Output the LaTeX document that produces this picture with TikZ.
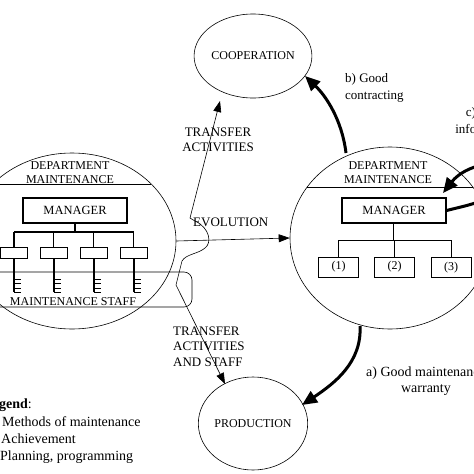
\documentclass[tikz,border=0pt]{standalone}
\usepackage{fontspec}
\setmainfont{Liberation Serif}
\usetikzlibrary{shapes.geometric,arrows.meta}
\begin{document}
\begin{tikzpicture}[x=1pt,y=-1pt,
  thinln/.style={line width=0.6pt},
  bigell/.style={draw, ellipse, line width=0.6pt, inner sep=0pt},
  smallell/.style={draw, ellipse, line width=0.6pt, inner sep=0pt, font=\fontsize{12}{14}\selectfont},
  mgrbox/.style={draw, line width=1.3pt, minimum width=104pt, minimum height=25pt, inner sep=0pt, font=\fontsize{12.5}{14}\selectfont},
  lbox/.style={draw, line width=0.9pt, minimum width=27pt, minimum height=11pt, inner sep=0pt},
  rbox/.style={draw, line width=0.8pt, minimum width=40pt, minimum height=20pt, inner sep=0pt, font=\fontsize{12}{14}\selectfont},
  captxt/.style={inner sep=0pt, font=\fontsize{12}{14}\selectfont},
  lbl/.style={inner sep=0pt, font=\fontsize{13}{15}\selectfont},
  lgd/.style={inner sep=0pt, anchor=base west, font=\fontsize{14}{17}\selectfont},
  thickarrow/.style={line width=3pt, -{Triangle[length=15pt,width=13pt]}},
  thinarrow/.style={line width=0.6pt, -{Triangle[length=11pt,width=8pt]}},
  thinarrowboth/.style={line width=0.6pt, {Triangle[length=11pt,width=8pt]}-{Triangle[length=11pt,width=8pt]}}
]
\useasboundingbox (0,0) rectangle (474,474);
\clip (0,0) rectangle (474,474);

% main ellipses
\node[bigell, minimum width=208pt, minimum height=176pt] (L) at (72,241) {};
\node[bigell, minimum width=200pt, minimum height=182pt] (R) at (390,238) {};
\node[smallell, minimum width=102pt, minimum height=84pt] (coop) at (253,56) {COOPERATION};
\node[smallell, minimum width=100pt, minimum height=93pt] (prod) at (253,423.5) {PRODUCTION};

% ---------- left department ----------
\node[captxt, anchor=base] (Ld1) at (70,169) {DEPARTMENT};
\node[captxt, anchor=base] (Ld2) at (70,183) {MAINTENANCE};
\draw[thinln] (-5,184.5) -- (151,184.5);
\node[mgrbox] (Lm) at (75,210.5) {MANAGER};
\coordinate (Lj) at (75,232);
\draw[line width=1.2pt] (Lm.south) -- (Lj);
\draw[line width=1.2pt] (14,232) -- (133.5,232);
\foreach \i/\xx in {1/14,2/53.5,3/93.5,4/133.5}{
  \node[lbox] (lb\i) at (\xx,252.5) {};
  \draw[line width=1.2pt] (\xx,232) -- (lb\i.north);
  \draw[line width=2pt] (lb\i.south) -- (\xx,292);
  \foreach \yy in {279,283.5,288,292}{
    \draw[line width=0.8pt] (\xx,\yy) -- ++(7,0);
  }
}
\draw[thinln, rounded corners=8pt] (-10,272) rectangle (192,307);
\node[captxt, anchor=base] (staff) at (73,305) {MAINTENANCE STAFF};

% ---------- right department ----------
\node[captxt, anchor=base] (Rd1) at (388,169) {DEPARTMENT};
\node[captxt, anchor=base] (Rd2) at (388,183) {MAINTENANCE};
\draw[thinln] (307,187) -- (473,187);
\node[mgrbox, line width=1.1pt] (Rm) at (394,210.5) {MANAGER};
\coordinate (Rj) at (393,240);
\draw[line width=0.8pt] (Rm.south -| Rj) -- (Rj);
\draw[line width=0.8pt] (338.5,240) -- (451,240);
\node[rbox] (r1) at (338.5,267) {(1)};
\node[rbox] (r2) at (394.5,267) {(2)};
\node[rbox] (r3) at (451,267.5) {(3)};
\foreach \i/\xx in {1/338.5,2/394.5,3/451}{
  \draw[line width=0.8pt] (\xx,240) -- (r\i.north);
}

% ---------- connectors ----------
\draw[thinarrow] (L.east) -- (R.west);
\node[lbl, anchor=base west] (evo) at (193,226) {EVOLUTION};

\coordinate (w1) at (190,218);
\coordinate (w2) at (176,285);
\coordinate (coopin) at (220,101);
\coordinate (prodin) at (225,384);
\draw[thinarrowboth] (coopin) -- (w1) -- (195,221)
  .. controls (210,228) and (212,243) .. (205,248)
  .. controls (198,254) and (186,254) .. (182,261)
  -- (w2) -- (prodin);

\node[lbl, anchor=base] (t1) at (218,136) {TRANSFER};
\node[lbl, anchor=base] (t2) at (218,151) {ACTIVITIES};
\node[lbl, anchor=base west] (t3) at (173,335) {TRANSFER};
\node[lbl, anchor=base west] (t4) at (173,350.5) {ACTIVITIES};
\node[lbl, anchor=base west] (t5) at (173,366) {AND STAFF};

% thick arrows
\coordinate (bstart) at (346,153);
\coordinate (bend) at (305,76);
\draw[thickarrow] (bstart) .. controls (342,120) and (326,96) .. (bend);
\node[lbl, anchor=base west] (b1) at (345,82) {b) Good};
\node[lbl, anchor=base west] (b2) at (345,99) {contracting};

\coordinate (astart) at (360,326);
\coordinate (aend) at (302,405);
\draw[thickarrow] (astart) .. controls (362,362) and (335,383) .. (aend);
\node[lbl, anchor=base, font=\fontsize{14}{16}\selectfont] (a1) at (426,376) {a) Good maintenance};
\node[lbl, anchor=base, font=\fontsize{14}{16}\selectfont] (a2) at (426,392) {warranty};

\coordinate (loopin) at (443,193);
\draw[thickarrow] (Rm.east) .. controls (468,205) and (500,200) .. (502,180)
  .. controls (504,155) and (465,165) .. (loopin);
\node[lbl, anchor=base] (c1) at (487,116) {c) Good};
\node[lbl, anchor=base] (c2) at (486,133) {information};

% ---------- legend ----------
\node[lgd] (lg0) at (-1,408) {\llap{\textbf{Le}}\textbf{gend}:};
\node[lgd] (lg1) at (2,426) {\llap{(1) }Methods of maintenance};
\node[lgd] (lg2) at (1,443) {\llap{(2) }Achievement};
\node[lgd] (lg3) at (0,460) {\llap{(3) }Planning, programming};
\end{tikzpicture}
\end{document}
